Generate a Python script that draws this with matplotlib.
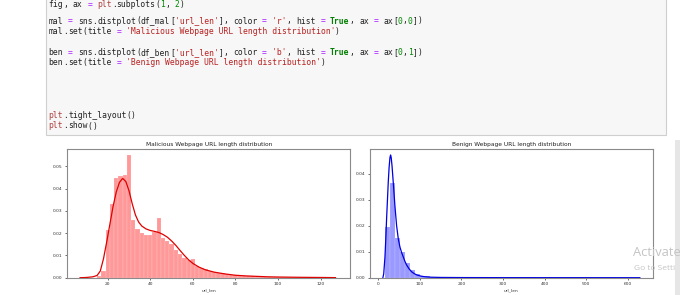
import re
import numpy as np
import matplotlib
matplotlib.use("Agg")
import matplotlib.pyplot as plt
from matplotlib.patches import Rectangle

W, H = 680, 295

# ---------------- data ----------------
mal_bin_edges = np.arange(15, 121, 2)
mal_hist = [0.0008, 0.0030, 0.0214, 0.0330, 0.0450, 0.0455, 0.0460, 0.0550,
            0.0260, 0.0220, 0.0200, 0.0190, 0.0190, 0.0205, 0.0270, 0.0180,
            0.0165, 0.0150, 0.0125, 0.0105, 0.0090, 0.0078, 0.0082, 0.0052,
            0.0045, 0.0037, 0.0031, 0.0027, 0.0023, 0.0019, 0.0016, 0.0013,
            0.0011, 0.0009, 0.0008, 0.0007, 0.0006, 0.0005, 0.0004, 0.0004,
            0.0003, 0.0003, 0.0003, 0.0002, 0.0002, 0.0002, 0.0001, 0.0001,
            0.0001, 0.0001, 0.0001, 0.0001]
mal_kde_x = [7, 10, 13, 15, 16.5, 18, 19.5, 21, 22.5, 24, 25.5, 27, 28.5, 30,
             31.5, 33, 34.5, 36, 38, 40, 42, 44, 46, 48, 50, 52, 54, 56, 58,
             60, 63, 66, 70, 75, 80, 85, 90, 95, 100, 110, 120, 127]
mal_kde_y = [0.0, 0.0001, 0.0004, 0.0010, 0.0030, 0.0085, 0.0160, 0.0240,
             0.0320, 0.0385, 0.0428, 0.0446, 0.0432, 0.0390, 0.0332, 0.0282,
             0.0250, 0.0232, 0.0219, 0.0212, 0.0208, 0.0203, 0.0194, 0.0182,
             0.0165, 0.0145, 0.0122, 0.0100, 0.0080, 0.0064, 0.0047, 0.0035,
             0.0025, 0.0017, 0.0011, 0.0008, 0.0006, 0.0004, 0.0003, 0.00018,
             0.0001, 0.00003]

ben_bin_edges = np.arange(16, 617, 12)
ben_hist = [0.0195, 0.0365, 0.0152, 0.0100, 0.0055, 0.0030, 0.0015, 0.0008,
            0.0005, 0.0003, 0.0002, 0.00015, 0.0001, 0.0001, 0.00008, 0.00006,
            0.00005, 0.00004, 0.00003, 0.00003, 0.00002, 0.00002, 0.00002,
            0.00002, 0.00002, 0.00001, 0.00001, 0.00001, 0.00001, 0.00001,
            0.00001, 0.00001, 0.00001, 0.00001, 0.00001, 0.00001, 0.00001,
            0.00001, 0.00001, 0.00001, 0.00001, 0.00001, 0.00001, 0.00001,
            0.00001, 0.00001, 0.00001, 0.00001, 0.00001, 0.00001]
ben_kde_x = [11, 13, 16, 18, 20, 22, 24, 26, 28, 29.5, 31, 33, 36, 40, 44, 48,
             52, 56, 60, 64, 68, 74, 80, 86, 92, 100, 110, 125, 150, 200, 300,
             629]
ben_kde_y = [0.0, 0.0015, 0.0080, 0.0150, 0.0230, 0.0300, 0.0370, 0.0425,
             0.0462, 0.0472, 0.0462, 0.0430, 0.0365, 0.0275, 0.0200, 0.0150,
             0.0118, 0.0097, 0.0080, 0.0063, 0.0049, 0.0034, 0.0023, 0.0016,
             0.0011, 0.0007, 0.0004, 0.0002, 0.0001, 0.00005, 0.00002, 0.0]

mal_xticks = [20, 40, 60, 80, 100, 120]
mal_yticks = [0.00, 0.01, 0.02, 0.03, 0.04, 0.05]
ben_xticks = [0, 100, 200, 300, 400, 500, 600]
ben_yticks = [0.00, 0.01, 0.02, 0.03, 0.04]
mal_title = "Malicious Webpage URL length distribution"
ben_title = "Benign Webpage URL length distribution"
x_label = "url_len"

code_lines = [
    "fig, ax = plt.subplots(1, 2)",
    "",
    "mal = sns.distplot(df_mal['url_len'], color = 'r', hist = True, ax = ax[0,0])",
    "mal.set(title = 'Malicious Webpage URL length distribution')",
    "",
    "ben = sns.distplot(df_ben['url_len'], color = 'b', hist = True, ax = ax[0,1])",
    "ben.set(title = 'Benign Webpage URL length distribution')",
    "",
    "",
    "",
    "",
    "plt.tight_layout()",
    "plt.show()",
]
watermark_lines = ["Activate", "Go to Setti"]

# ---------------- figure ----------------
fig = plt.figure(figsize=(W / 100, H / 100), dpi=100)
fig.patch.set_facecolor("white")


def fx(px):
    return px / W


def fy(py):
    return 1 - py / H


# code cell box
fig.add_artist(Rectangle((fx(46), fy(134.5)), fx(666) - fx(46), fy(-5) - fy(134.5),
                         transform=fig.transFigure, facecolor="#f7f7f7",
                         edgecolor="#cfcfcf", lw=0.8, zorder=0))
# scrollbar strip
fig.add_artist(Rectangle((fx(675), fy(295)), fx(680) - fx(675), fy(140) - fy(295),
                         transform=fig.transFigure, facecolor="#e6e6e6",
                         edgecolor="none", zorder=0))

fs_code = 5.8
char_w = 0.6021 * fs_code * 100 / 72
tok_re = re.compile(r"'[^']*'|\bTrue\b|\bplt\b|\d+|=|[A-Za-z_]+|.")
for i, line in enumerate(code_lines):
    yb = -0.5 + 10.5 * i + 3.0
    if i == 0:
        yb = 7.0
    for m in tok_re.finditer(line):
        tok = m.group(0)
        if tok.strip() == "":
            continue
        color, weight = "#222222", "normal"
        if tok.startswith("'"):
            color = "#BA2121"
        elif tok == "True":
            color, weight = "#008000", "bold"
        elif tok == "plt":
            color = "#b04040"
        elif tok.isdigit():
            color = "#008800"
        elif tok == "=":
            color = "#AA22FF"
        fig.text(fx(48.7 + m.start() * char_w), fy(yb), tok,
                 family="DejaVu Sans Mono", fontsize=fs_code, color=color,
                 weight=weight, va="baseline", ha="left")

spine_c = "#8a8a8a"


def style_axes(ax, xticks, yticks, xlim, ylim, title):
    ax.set_xlim(*xlim)
    ax.set_ylim(*ylim)
    ax.set_xticks(xticks)
    ax.set_yticks(yticks)
    ax.set_xticklabels([str(t) for t in xticks])
    ax.set_yticklabels(["%.2f" % t for t in yticks])
    ax.tick_params(labelsize=3.2, length=1.5, width=0.5, pad=1.8,
                   colors="#333333")
    for s in ax.spines.values():
        s.set_color(spine_c)
        s.set_linewidth(0.8)
    ax.set_title(title, fontsize=4.2, pad=2.2, color="#222222")
    ax.set_xlabel(x_label, fontsize=3.2, labelpad=1.5, color="#333333")


ax1 = fig.add_axes([fx(67.3), fy(277.7), fx(350) - fx(67.3), fy(149) - fy(277.7)])
ax1.bar(mal_bin_edges[:-1], mal_hist, width=np.diff(mal_bin_edges), align="edge",
        color="r", alpha=0.4, edgecolor="white", linewidth=0.25)
ax1.plot(mal_kde_x, mal_kde_y, color="#e00000", lw=0.9)
style_axes(ax1, mal_xticks, mal_yticks, (1.0, 133.8), (0, 0.0578), mal_title)

ax2 = fig.add_axes([fx(370), fy(277.7), fx(652.7) - fx(370), fy(149) - fy(277.7)])
ax2.bar(ben_bin_edges[:-1], ben_hist, width=np.diff(ben_bin_edges), align="edge",
        color="b", alpha=0.4, edgecolor="white", linewidth=0.25)
ax2.plot(ben_kde_x, ben_kde_y, color="#0000e0", lw=0.9)
style_axes(ax2, ben_xticks, ben_yticks, (-20, 660), (0, 0.0495), ben_title)

# watermark
fig.text(fx(633), fy(253), watermark_lines[0], fontsize=9.3, color="#c4c4c4",
         family="Open Sans", va="center", ha="left", zorder=10)
fig.text(fx(634), fy(268), watermark_lines[1], fontsize=6.0,
         color="#c4c4c4", family="Open Sans", va="center", ha="left", zorder=10)

fig.savefig("out.png", dpi=100)
